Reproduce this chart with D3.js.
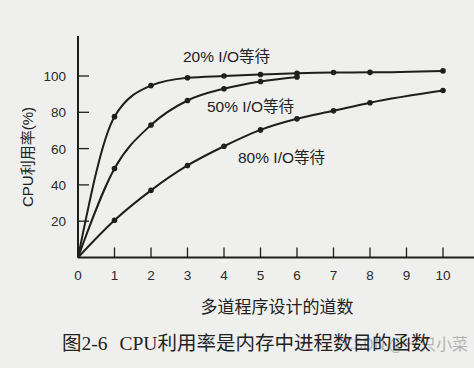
<!DOCTYPE html>
<html><head><meta charset="utf-8">
<script src="https://cdn.jsdelivr.net/npm/d3@7"></script>
<style>
html,body{margin:0;padding:0;background:#efefed;}
svg{display:block;}
</style></head>
<body>
<svg id="chart" width="474" height="368"></svg>
<script>
// ---- data ----
const xTicks = [0,1,2,3,4,5,6,7,8,9,10];
const yTicks = [20,40,60,80,100];
const xs20 = [0,1,2,3,4,5,6,7,8,10];
const io20 = [0,77.6,94.7,99,100,100.8,101.5,101.9,102,102.8];
const xs50 = [0,1,2,3,4,5,6];
const io50 = [0,49,73,86.5,93,97,99.5];
const xs80 = [0,1,2,3,4,5,6,7,8,10];
const io80 = [0,20.5,37,50.7,61.3,70.3,76.4,80.8,85.3,92];
const seriesLabels = ["20% I/O等待","50% I/O等待","80% I/O等待"];
const yTitle = "CPU利用率(%)";
const xTitle = "多道程序设计的道数";
const captionNum = "图2-6";
const captionText = "CPU利用率是内存中进程数目的函数";
const watermark = "CSDN @一只小菜";

const svg = d3.select("#chart");
const ink = "#1e1e1e";
const x = d3.scaleLinear().domain([0,10]).range([78,443]);
const y = d3.scaleLinear().domain([0,100]).range([257.5,76]);

// watermark (behind the caption, as in the scan)
svg.append("text").attr("x",468).attr("y",350).attr("text-anchor","end")
  .attr("font-family","Noto Sans CJK SC, sans-serif").attr("font-size",16)
  .attr("fill","#a5a5a5").attr("opacity",0.8).text(watermark);

// axes lines
svg.append("line").attr("x1",x(0)).attr("x2",474).attr("y1",y(0)).attr("y2",y(0))
  .attr("stroke",ink).attr("stroke-width",2);
svg.append("line").attr("x1",x(0)).attr("x2",x(0)).attr("y1",y(0)).attr("y2",36)
  .attr("stroke",ink).attr("stroke-width",2);

// x ticks (inside, upward)
const xt = xTicks.filter(d=>d>0);
svg.selectAll(".xt").data(xt).enter().append("line")
  .attr("x1",d=>x(d)).attr("x2",d=>x(d)).attr("y1",y(0)).attr("y2",y(0)-10)
  .attr("stroke",ink).attr("stroke-width",1.3);
svg.selectAll(".xl").data(xTicks).enter().append("text")
  .attr("x",d=>x(d)).attr("y",y(0)+22).attr("text-anchor","middle")
  .attr("font-family","Liberation Sans, Arial, sans-serif").attr("font-size",13.5)
  .attr("fill","#2a2a2a").text(d=>d);

// y ticks (inside, rightward)
svg.selectAll(".yt").data(yTicks).enter().append("line")
  .attr("x1",x(0)).attr("x2",x(0)+11).attr("y1",d=>y(d)).attr("y2",d=>y(d))
  .attr("stroke",ink).attr("stroke-width",1.3);
svg.selectAll(".yl").data(yTicks).enter().append("text")
  .attr("x",66).attr("y",d=>y(d)+5).attr("text-anchor","end")
  .attr("font-family","Liberation Sans, Arial, sans-serif").attr("font-size",13.5)
  .attr("fill","#2a2a2a").text(d=>d);

// series
const line = d3.line().x(d=>x(d[0])).y(d=>y(d[1])).curve(d3.curveMonotoneX);
const series = [[xs20,io20],[xs50,io50],[xs80,io80]];
series.forEach(([xs,vs])=>{
  const pts = xs.map((v,i)=>[v,vs[i]]);
  svg.append("path").datum(pts).attr("d",line).attr("fill","none")
    .attr("stroke",ink).attr("stroke-width",2);
  svg.selectAll(null).data(pts.filter(p=>p[0]>0)).enter().append("circle")
    .attr("cx",d=>x(d[0])).attr("cy",d=>y(d[1])).attr("r",2.8).attr("fill",ink);
});

// series labels
const labelPos = [[183,62],[207,112],[238,163]];
seriesLabels.forEach((t,i)=>{
  svg.append("text").attr("x",labelPos[i][0]).attr("y",labelPos[i][1])
    .attr("font-family","Liberation Sans, Noto Sans CJK SC, sans-serif").attr("font-size",15.5)
    .attr("fill","#222").text(t);
});

// y title
svg.append("text").attr("transform","translate(33,157) rotate(-90)")
  .attr("text-anchor","middle")
  .attr("font-family","Liberation Sans, Noto Sans CJK SC, sans-serif").attr("font-size",15)
  .attr("fill","#222").text(yTitle);

// x title
svg.append("text").attr("x",277).attr("y",313).attr("text-anchor","middle")
  .attr("font-family","Noto Sans CJK SC, sans-serif").attr("font-size",17)
  .attr("fill","#222").text(xTitle);

// caption
const cap = svg.append("text").attr("x",62).attr("y",350)
  .attr("font-family","Liberation Serif, Noto Sans CJK SC, serif").attr("font-size",19.5)
  .attr("fill","#222");
cap.append("tspan").text(captionNum);
cap.append("tspan").attr("dx",12).text(captionText);
</script>
</body></html>
